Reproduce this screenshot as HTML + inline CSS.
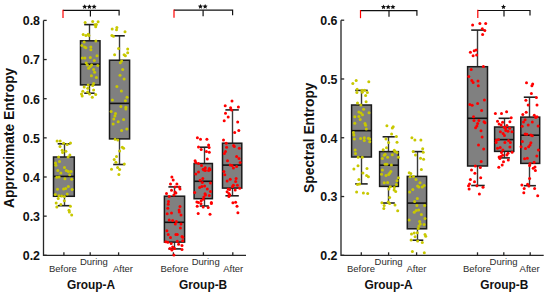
<!DOCTYPE html><html><head><meta charset="utf-8"><style>html,body{margin:0;padding:0;background:#fff;}svg{display:block;font-family:"Liberation Sans",sans-serif;}</style></head><body>
<svg width="550" height="296" viewBox="0 0 550 296">
<rect width="550" height="296" fill="#fff"/>
<path d="M43.5 20.4 V255.3 H246" fill="none" stroke="#262626" stroke-width="1.3"/>
<line x1="43.5" y1="255.3" x2="46.7" y2="255.3" stroke="#262626" stroke-width="1.3"/>
<text x="40.0" y="260.1" text-anchor="end" font-size="12.4" font-weight="bold" fill="#111">0.2</text>
<line x1="43.5" y1="216.15" x2="46.7" y2="216.15" stroke="#262626" stroke-width="1.3"/>
<text x="40.0" y="220.95" text-anchor="end" font-size="12.4" font-weight="bold" fill="#111">0.3</text>
<line x1="43.5" y1="177.0" x2="46.7" y2="177.0" stroke="#262626" stroke-width="1.3"/>
<text x="40.0" y="181.8" text-anchor="end" font-size="12.4" font-weight="bold" fill="#111">0.4</text>
<line x1="43.5" y1="137.85" x2="46.7" y2="137.85" stroke="#262626" stroke-width="1.3"/>
<text x="40.0" y="142.65" text-anchor="end" font-size="12.4" font-weight="bold" fill="#111">0.5</text>
<line x1="43.5" y1="98.7" x2="46.7" y2="98.7" stroke="#262626" stroke-width="1.3"/>
<text x="40.0" y="103.5" text-anchor="end" font-size="12.4" font-weight="bold" fill="#111">0.6</text>
<line x1="43.5" y1="59.55" x2="46.7" y2="59.55" stroke="#262626" stroke-width="1.3"/>
<text x="40.0" y="64.35" text-anchor="end" font-size="12.4" font-weight="bold" fill="#111">0.7</text>
<line x1="43.5" y1="20.4" x2="46.7" y2="20.4" stroke="#262626" stroke-width="1.3"/>
<text x="40.0" y="25.2" text-anchor="end" font-size="12.4" font-weight="bold" fill="#111">0.8</text>
<line x1="63.9" y1="255.3" x2="63.9" y2="252.3" stroke="#262626" stroke-width="1.3"/>
<line x1="90.2" y1="255.3" x2="90.2" y2="252.3" stroke="#262626" stroke-width="1.3"/>
<line x1="118.6" y1="255.3" x2="118.6" y2="252.3" stroke="#262626" stroke-width="1.3"/>
<line x1="173.4" y1="255.3" x2="173.4" y2="252.3" stroke="#262626" stroke-width="1.3"/>
<line x1="203.4" y1="255.3" x2="203.4" y2="252.3" stroke="#262626" stroke-width="1.3"/>
<line x1="232.8" y1="255.3" x2="232.8" y2="252.3" stroke="#262626" stroke-width="1.3"/>
<text transform="translate(14.4,137.9) rotate(-90)" text-anchor="middle" font-size="13.8" font-weight="bold" fill="#111">Approximate Entropy</text>
<path d="M341.0 20.2 V255.3 H543.7" fill="none" stroke="#262626" stroke-width="1.3"/>
<line x1="341.0" y1="255.3" x2="344.2" y2="255.3" stroke="#262626" stroke-width="1.3"/>
<text x="337.5" y="260.1" text-anchor="end" font-size="12.4" font-weight="bold" fill="#111">0.2</text>
<line x1="341.0" y1="196.53" x2="344.2" y2="196.53" stroke="#262626" stroke-width="1.3"/>
<text x="337.5" y="201.33" text-anchor="end" font-size="12.4" font-weight="bold" fill="#111">0.3</text>
<line x1="341.0" y1="137.75" x2="344.2" y2="137.75" stroke="#262626" stroke-width="1.3"/>
<text x="337.5" y="142.55" text-anchor="end" font-size="12.4" font-weight="bold" fill="#111">0.4</text>
<line x1="341.0" y1="78.98" x2="344.2" y2="78.98" stroke="#262626" stroke-width="1.3"/>
<text x="337.5" y="83.78" text-anchor="end" font-size="12.4" font-weight="bold" fill="#111">0.5</text>
<line x1="341.0" y1="20.2" x2="344.2" y2="20.2" stroke="#262626" stroke-width="1.3"/>
<text x="337.5" y="25" text-anchor="end" font-size="12.4" font-weight="bold" fill="#111">0.6</text>
<line x1="361.3" y1="255.3" x2="361.3" y2="252.3" stroke="#262626" stroke-width="1.3"/>
<line x1="388.6" y1="255.3" x2="388.6" y2="252.3" stroke="#262626" stroke-width="1.3"/>
<line x1="416.6" y1="255.3" x2="416.6" y2="252.3" stroke="#262626" stroke-width="1.3"/>
<line x1="477.5" y1="255.3" x2="477.5" y2="252.3" stroke="#262626" stroke-width="1.3"/>
<line x1="503.8" y1="255.3" x2="503.8" y2="252.3" stroke="#262626" stroke-width="1.3"/>
<line x1="530.2" y1="255.3" x2="530.2" y2="252.3" stroke="#262626" stroke-width="1.3"/>
<text transform="translate(313.8,137.7) rotate(-90)" text-anchor="middle" font-size="13.8" font-weight="bold" fill="#111">Spectral Entropy</text>
<line x1="64.5" y1="143.8" x2="64.5" y2="157.0" stroke="#3a3a3a" stroke-width="1.4"/>
<line x1="64.5" y1="196.3" x2="64.5" y2="205.7" stroke="#3a3a3a" stroke-width="1.4"/>
<line x1="57.7" y1="143.8" x2="70.4" y2="143.8" stroke="#222" stroke-width="1.6"/>
<line x1="57.7" y1="205.7" x2="70.4" y2="205.7" stroke="#222" stroke-width="1.6"/>
<rect x="53.5" y="157.0" width="20.8" height="39.3" fill="#808080" stroke="#1a1a1a" stroke-width="1.5"/>
<line x1="53.5" y1="176.4" x2="74.3" y2="176.4" stroke="#111" stroke-width="1.6"/>
<line x1="89.5" y1="24.6" x2="89.5" y2="40.8" stroke="#3a3a3a" stroke-width="1.4"/>
<line x1="89.5" y1="84.9" x2="89.5" y2="93.2" stroke="#3a3a3a" stroke-width="1.4"/>
<line x1="84.2" y1="24.6" x2="94.7" y2="24.6" stroke="#222" stroke-width="1.6"/>
<line x1="84.2" y1="93.2" x2="94.7" y2="93.2" stroke="#222" stroke-width="1.6"/>
<rect x="80.5" y="40.8" width="19.5" height="44.1" fill="#808080" stroke="#1a1a1a" stroke-width="1.5"/>
<line x1="80.5" y1="64.2" x2="100.0" y2="64.2" stroke="#111" stroke-width="1.6"/>
<line x1="119.5" y1="35.8" x2="119.5" y2="60.2" stroke="#3a3a3a" stroke-width="1.4"/>
<line x1="119.5" y1="138.9" x2="119.5" y2="164.5" stroke="#3a3a3a" stroke-width="1.4"/>
<line x1="113.2" y1="35.8" x2="124.8" y2="35.8" stroke="#222" stroke-width="1.6"/>
<line x1="113.2" y1="164.5" x2="124.8" y2="164.5" stroke="#222" stroke-width="1.6"/>
<rect x="109.5" y="60.2" width="20.1" height="78.7" fill="#808080" stroke="#1a1a1a" stroke-width="1.5"/>
<line x1="109.5" y1="103.4" x2="129.6" y2="103.4" stroke="#111" stroke-width="1.6"/>
<line x1="174.5" y1="186.9" x2="174.5" y2="196.2" stroke="#3a3a3a" stroke-width="1.4"/>
<line x1="174.5" y1="242.1" x2="174.5" y2="248.9" stroke="#3a3a3a" stroke-width="1.4"/>
<line x1="168.4" y1="186.9" x2="181.2" y2="186.9" stroke="#222" stroke-width="1.6"/>
<line x1="168.4" y1="248.9" x2="181.2" y2="248.9" stroke="#222" stroke-width="1.6"/>
<rect x="164.4" y="196.2" width="20.2" height="45.9" fill="#808080" stroke="#1a1a1a" stroke-width="1.5"/>
<line x1="164.4" y1="222.3" x2="184.6" y2="222.3" stroke="#111" stroke-width="1.6"/>
<line x1="204.5" y1="147.2" x2="204.5" y2="163.5" stroke="#3a3a3a" stroke-width="1.4"/>
<line x1="204.5" y1="198.7" x2="204.5" y2="206.0" stroke="#3a3a3a" stroke-width="1.4"/>
<line x1="199.7" y1="147.2" x2="208.8" y2="147.2" stroke="#222" stroke-width="1.6"/>
<line x1="199.7" y1="206.0" x2="208.8" y2="206.0" stroke="#222" stroke-width="1.6"/>
<rect x="194.1" y="163.5" width="18.3" height="35.2" fill="#808080" stroke="#1a1a1a" stroke-width="1.5"/>
<line x1="194.1" y1="181.3" x2="212.4" y2="181.3" stroke="#111" stroke-width="1.6"/>
<line x1="232.5" y1="109.9" x2="232.5" y2="143.2" stroke="#3a3a3a" stroke-width="1.4"/>
<line x1="232.5" y1="188.1" x2="232.5" y2="195.8" stroke="#3a3a3a" stroke-width="1.4"/>
<line x1="225.4" y1="109.9" x2="238.8" y2="109.9" stroke="#222" stroke-width="1.6"/>
<line x1="225.4" y1="195.8" x2="238.8" y2="195.8" stroke="#222" stroke-width="1.6"/>
<rect x="222.5" y="143.2" width="19.3" height="44.9" fill="#808080" stroke="#1a1a1a" stroke-width="1.5"/>
<line x1="222.5" y1="165.1" x2="241.8" y2="165.1" stroke="#111" stroke-width="1.6"/>
<line x1="361.5" y1="90.4" x2="361.5" y2="105.0" stroke="#3a3a3a" stroke-width="1.4"/>
<line x1="361.5" y1="157.0" x2="361.5" y2="183.9" stroke="#3a3a3a" stroke-width="1.4"/>
<line x1="355.2" y1="90.4" x2="367.7" y2="90.4" stroke="#222" stroke-width="1.6"/>
<line x1="355.2" y1="183.9" x2="367.7" y2="183.9" stroke="#222" stroke-width="1.6"/>
<rect x="351.6" y="105.0" width="19.8" height="52.0" fill="#808080" stroke="#1a1a1a" stroke-width="1.5"/>
<line x1="351.6" y1="130.7" x2="371.4" y2="130.7" stroke="#111" stroke-width="1.6"/>
<line x1="388.5" y1="136.8" x2="388.5" y2="151.6" stroke="#3a3a3a" stroke-width="1.4"/>
<line x1="388.5" y1="186.4" x2="388.5" y2="203.0" stroke="#3a3a3a" stroke-width="1.4"/>
<line x1="382.6" y1="136.8" x2="394.8" y2="136.8" stroke="#222" stroke-width="1.6"/>
<line x1="382.6" y1="203.0" x2="394.8" y2="203.0" stroke="#222" stroke-width="1.6"/>
<rect x="379.6" y="151.6" width="18.8" height="34.8" fill="#808080" stroke="#1a1a1a" stroke-width="1.5"/>
<line x1="379.6" y1="165.2" x2="398.4" y2="165.2" stroke="#111" stroke-width="1.6"/>
<line x1="417.5" y1="151.6" x2="417.5" y2="176.4" stroke="#3a3a3a" stroke-width="1.4"/>
<line x1="417.5" y1="228.8" x2="417.5" y2="240.2" stroke="#3a3a3a" stroke-width="1.4"/>
<line x1="412.4" y1="151.6" x2="423.3" y2="151.6" stroke="#222" stroke-width="1.6"/>
<line x1="412.4" y1="240.2" x2="423.3" y2="240.2" stroke="#222" stroke-width="1.6"/>
<rect x="407.3" y="176.4" width="19.3" height="52.4" fill="#808080" stroke="#1a1a1a" stroke-width="1.5"/>
<line x1="407.3" y1="203.1" x2="426.6" y2="203.1" stroke="#111" stroke-width="1.6"/>
<line x1="477.5" y1="30.1" x2="477.5" y2="66.7" stroke="#3a3a3a" stroke-width="1.4"/>
<line x1="477.5" y1="166.0" x2="477.5" y2="185.5" stroke="#3a3a3a" stroke-width="1.4"/>
<line x1="471.2" y1="30.1" x2="484.7" y2="30.1" stroke="#222" stroke-width="1.6"/>
<line x1="471.2" y1="185.5" x2="484.7" y2="185.5" stroke="#222" stroke-width="1.6"/>
<rect x="467.6" y="66.7" width="19.9" height="99.3" fill="#808080" stroke="#1a1a1a" stroke-width="1.5"/>
<line x1="467.6" y1="118.3" x2="487.5" y2="118.3" stroke="#111" stroke-width="1.6"/>
<line x1="504.5" y1="118.3" x2="504.5" y2="127.0" stroke="#3a3a3a" stroke-width="1.4"/>
<line x1="504.5" y1="151.4" x2="504.5" y2="157.9" stroke="#3a3a3a" stroke-width="1.4"/>
<line x1="498.6" y1="118.3" x2="509.8" y2="118.3" stroke="#222" stroke-width="1.6"/>
<line x1="498.6" y1="157.9" x2="509.8" y2="157.9" stroke="#222" stroke-width="1.6"/>
<rect x="494.6" y="127.0" width="19.2" height="24.4" fill="#808080" stroke="#1a1a1a" stroke-width="1.5"/>
<line x1="494.6" y1="139.6" x2="513.8" y2="139.6" stroke="#111" stroke-width="1.6"/>
<line x1="529.5" y1="97.2" x2="529.5" y2="117.1" stroke="#3a3a3a" stroke-width="1.4"/>
<line x1="529.5" y1="163.4" x2="529.5" y2="185.7" stroke="#3a3a3a" stroke-width="1.4"/>
<line x1="523.8" y1="97.2" x2="535.9" y2="97.2" stroke="#222" stroke-width="1.6"/>
<line x1="523.8" y1="185.7" x2="535.9" y2="185.7" stroke="#222" stroke-width="1.6"/>
<rect x="520.8" y="117.1" width="18.9" height="46.3" fill="#808080" stroke="#1a1a1a" stroke-width="1.5"/>
<line x1="520.8" y1="135.2" x2="539.7" y2="135.2" stroke="#111" stroke-width="1.6"/>
<circle cx="57.1" cy="141.1" r="1.5" fill="#c8c800"/>
<circle cx="60.2" cy="141.1" r="1.5" fill="#c8c800"/>
<circle cx="63.6" cy="143.3" r="1.5" fill="#c8c800"/>
<circle cx="67.2" cy="144.5" r="1.5" fill="#c8c800"/>
<circle cx="70.5" cy="142.9" r="1.5" fill="#c8c800"/>
<circle cx="60.0" cy="146.5" r="1.5" fill="#c8c800"/>
<circle cx="62.2" cy="150.3" r="1.5" fill="#c8c800"/>
<circle cx="62.6" cy="152.6" r="1.5" fill="#c8c800"/>
<circle cx="65.9" cy="151.2" r="1.5" fill="#c8c800"/>
<circle cx="58.6" cy="157.1" r="1.5" fill="#c8c800"/>
<circle cx="68.1" cy="157.1" r="1.5" fill="#c8c800"/>
<circle cx="69.9" cy="155.0" r="1.5" fill="#c8c800"/>
<circle cx="55.5" cy="162.9" r="1.5" fill="#c8c800"/>
<circle cx="55.9" cy="165.2" r="1.5" fill="#c8c800"/>
<circle cx="59.5" cy="161.5" r="1.5" fill="#c8c800"/>
<circle cx="64.5" cy="167.5" r="1.5" fill="#c8c800"/>
<circle cx="57.8" cy="170.4" r="1.5" fill="#c8c800"/>
<circle cx="66.3" cy="170.4" r="1.5" fill="#c8c800"/>
<circle cx="68.3" cy="171.5" r="1.5" fill="#c8c800"/>
<circle cx="71.0" cy="171.5" r="1.5" fill="#c8c800"/>
<circle cx="60.9" cy="173.1" r="1.5" fill="#c8c800"/>
<circle cx="69.7" cy="174.7" r="1.5" fill="#c8c800"/>
<circle cx="56.8" cy="177.2" r="1.5" fill="#c8c800"/>
<circle cx="59.1" cy="176.9" r="1.5" fill="#c8c800"/>
<circle cx="64.9" cy="178.8" r="1.5" fill="#c8c800"/>
<circle cx="71.7" cy="179.2" r="1.5" fill="#c8c800"/>
<circle cx="68.3" cy="186.4" r="1.5" fill="#c8c800"/>
<circle cx="57.5" cy="189.3" r="1.5" fill="#c8c800"/>
<circle cx="63.6" cy="189.1" r="1.5" fill="#c8c800"/>
<circle cx="65.6" cy="188.6" r="1.5" fill="#c8c800"/>
<circle cx="72.1" cy="189.6" r="1.5" fill="#c8c800"/>
<circle cx="55.3" cy="194.4" r="1.5" fill="#c8c800"/>
<circle cx="67.2" cy="193.9" r="1.5" fill="#c8c800"/>
<circle cx="58.9" cy="195.8" r="1.5" fill="#c8c800"/>
<circle cx="61.6" cy="196.1" r="1.5" fill="#c8c800"/>
<circle cx="64.3" cy="196.4" r="1.5" fill="#c8c800"/>
<circle cx="58.2" cy="198.6" r="1.5" fill="#c8c800"/>
<circle cx="64.3" cy="200.8" r="1.5" fill="#c8c800"/>
<circle cx="56.2" cy="203.1" r="1.5" fill="#c8c800"/>
<circle cx="60.9" cy="204.4" r="1.5" fill="#c8c800"/>
<circle cx="56.8" cy="206.9" r="1.5" fill="#c8c800"/>
<circle cx="70.4" cy="206.2" r="1.5" fill="#c8c800"/>
<circle cx="69.0" cy="210.3" r="1.5" fill="#c8c800"/>
<circle cx="69.4" cy="211.9" r="1.5" fill="#c8c800"/>
<circle cx="71.7" cy="215.0" r="1.5" fill="#c8c800"/>
<circle cx="85.1" cy="22.4" r="1.5" fill="#c8c800"/>
<circle cx="92.7" cy="21.4" r="1.5" fill="#c8c800"/>
<circle cx="98.1" cy="21.8" r="1.5" fill="#c8c800"/>
<circle cx="95.0" cy="24.8" r="1.5" fill="#c8c800"/>
<circle cx="96.4" cy="24.5" r="1.5" fill="#c8c800"/>
<circle cx="95.7" cy="26.8" r="1.5" fill="#c8c800"/>
<circle cx="83.2" cy="34.5" r="1.5" fill="#c8c800"/>
<circle cx="85.9" cy="35.4" r="1.5" fill="#c8c800"/>
<circle cx="88.2" cy="34.3" r="1.5" fill="#c8c800"/>
<circle cx="88.9" cy="35.6" r="1.5" fill="#c8c800"/>
<circle cx="84.2" cy="42.1" r="1.5" fill="#c8c800"/>
<circle cx="95.9" cy="41.0" r="1.5" fill="#c8c800"/>
<circle cx="81.9" cy="45.4" r="1.5" fill="#c8c800"/>
<circle cx="84.6" cy="47.1" r="1.5" fill="#c8c800"/>
<circle cx="85.9" cy="47.8" r="1.5" fill="#c8c800"/>
<circle cx="90.9" cy="47.1" r="1.5" fill="#c8c800"/>
<circle cx="90.9" cy="49.8" r="1.5" fill="#c8c800"/>
<circle cx="82.4" cy="58.1" r="1.5" fill="#c8c800"/>
<circle cx="84.9" cy="58.1" r="1.5" fill="#c8c800"/>
<circle cx="90.3" cy="57.5" r="1.5" fill="#c8c800"/>
<circle cx="97.0" cy="55.8" r="1.5" fill="#c8c800"/>
<circle cx="94.3" cy="60.4" r="1.5" fill="#c8c800"/>
<circle cx="86.2" cy="62.9" r="1.5" fill="#c8c800"/>
<circle cx="87.3" cy="64.9" r="1.5" fill="#c8c800"/>
<circle cx="91.6" cy="64.9" r="1.5" fill="#c8c800"/>
<circle cx="90.3" cy="66.6" r="1.5" fill="#c8c800"/>
<circle cx="88.6" cy="68.3" r="1.5" fill="#c8c800"/>
<circle cx="97.7" cy="65.6" r="1.5" fill="#c8c800"/>
<circle cx="93.6" cy="69.6" r="1.5" fill="#c8c800"/>
<circle cx="94.6" cy="72.3" r="1.5" fill="#c8c800"/>
<circle cx="91.4" cy="75.7" r="1.5" fill="#c8c800"/>
<circle cx="96.4" cy="77.5" r="1.5" fill="#c8c800"/>
<circle cx="93.6" cy="83.4" r="1.5" fill="#c8c800"/>
<circle cx="92.7" cy="85.5" r="1.5" fill="#c8c800"/>
<circle cx="88.2" cy="85.1" r="1.5" fill="#c8c800"/>
<circle cx="84.2" cy="86.9" r="1.5" fill="#c8c800"/>
<circle cx="87.8" cy="88.2" r="1.5" fill="#c8c800"/>
<circle cx="93.6" cy="90.1" r="1.5" fill="#c8c800"/>
<circle cx="82.8" cy="91.2" r="1.5" fill="#c8c800"/>
<circle cx="87.6" cy="91.9" r="1.5" fill="#c8c800"/>
<circle cx="81.5" cy="93.9" r="1.5" fill="#c8c800"/>
<circle cx="82.2" cy="95.9" r="1.5" fill="#c8c800"/>
<circle cx="89.6" cy="93.9" r="1.5" fill="#c8c800"/>
<circle cx="95.7" cy="94.6" r="1.5" fill="#c8c800"/>
<circle cx="92.3" cy="97.3" r="1.5" fill="#c8c800"/>
<circle cx="112.2" cy="29.0" r="1.5" fill="#c8c800"/>
<circle cx="116.9" cy="27.4" r="1.5" fill="#c8c800"/>
<circle cx="116.5" cy="29.8" r="1.5" fill="#c8c800"/>
<circle cx="125.0" cy="31.7" r="1.5" fill="#c8c800"/>
<circle cx="111.9" cy="35.5" r="1.5" fill="#c8c800"/>
<circle cx="113.5" cy="36.2" r="1.5" fill="#c8c800"/>
<circle cx="118.6" cy="48.4" r="1.5" fill="#c8c800"/>
<circle cx="127.7" cy="49.0" r="1.5" fill="#c8c800"/>
<circle cx="114.6" cy="54.7" r="1.5" fill="#c8c800"/>
<circle cx="124.1" cy="54.7" r="1.5" fill="#c8c800"/>
<circle cx="125.4" cy="55.8" r="1.5" fill="#c8c800"/>
<circle cx="127.7" cy="52.8" r="1.5" fill="#c8c800"/>
<circle cx="121.6" cy="60.9" r="1.5" fill="#c8c800"/>
<circle cx="120.3" cy="62.7" r="1.5" fill="#c8c800"/>
<circle cx="122.7" cy="69.5" r="1.5" fill="#c8c800"/>
<circle cx="120.0" cy="75.3" r="1.5" fill="#c8c800"/>
<circle cx="124.1" cy="78.9" r="1.5" fill="#c8c800"/>
<circle cx="116.9" cy="86.6" r="1.5" fill="#c8c800"/>
<circle cx="121.4" cy="91.1" r="1.5" fill="#c8c800"/>
<circle cx="127.0" cy="97.2" r="1.5" fill="#c8c800"/>
<circle cx="112.4" cy="100.1" r="1.5" fill="#c8c800"/>
<circle cx="125.4" cy="100.8" r="1.5" fill="#c8c800"/>
<circle cx="120.9" cy="106.4" r="1.5" fill="#c8c800"/>
<circle cx="125.9" cy="107.2" r="1.5" fill="#c8c800"/>
<circle cx="125.9" cy="109.1" r="1.5" fill="#c8c800"/>
<circle cx="111.1" cy="111.6" r="1.5" fill="#c8c800"/>
<circle cx="115.5" cy="113.6" r="1.5" fill="#c8c800"/>
<circle cx="114.9" cy="115.9" r="1.5" fill="#c8c800"/>
<circle cx="113.8" cy="119.0" r="1.5" fill="#c8c800"/>
<circle cx="123.6" cy="119.4" r="1.5" fill="#c8c800"/>
<circle cx="118.2" cy="121.7" r="1.5" fill="#c8c800"/>
<circle cx="113.2" cy="124.0" r="1.5" fill="#c8c800"/>
<circle cx="121.6" cy="130.5" r="1.5" fill="#c8c800"/>
<circle cx="126.8" cy="128.9" r="1.5" fill="#c8c800"/>
<circle cx="115.1" cy="139.2" r="1.5" fill="#c8c800"/>
<circle cx="117.8" cy="140.1" r="1.5" fill="#c8c800"/>
<circle cx="122.3" cy="147.3" r="1.5" fill="#c8c800"/>
<circle cx="123.6" cy="148.2" r="1.5" fill="#c8c800"/>
<circle cx="119.6" cy="150.9" r="1.5" fill="#c8c800"/>
<circle cx="116.5" cy="156.4" r="1.5" fill="#c8c800"/>
<circle cx="114.2" cy="159.5" r="1.5" fill="#c8c800"/>
<circle cx="115.9" cy="162.2" r="1.5" fill="#c8c800"/>
<circle cx="124.3" cy="164.1" r="1.5" fill="#c8c800"/>
<circle cx="117.6" cy="167.6" r="1.5" fill="#c8c800"/>
<circle cx="111.5" cy="169.2" r="1.5" fill="#c8c800"/>
<circle cx="119.6" cy="169.5" r="1.5" fill="#c8c800"/>
<circle cx="118.9" cy="174.6" r="1.5" fill="#c8c800"/>
<circle cx="171.9" cy="177.1" r="1.5" fill="#ff0000"/>
<circle cx="173.2" cy="180.1" r="1.5" fill="#ff0000"/>
<circle cx="170.5" cy="183.9" r="1.5" fill="#ff0000"/>
<circle cx="176.9" cy="183.9" r="1.5" fill="#ff0000"/>
<circle cx="175.0" cy="187.1" r="1.5" fill="#ff0000"/>
<circle cx="179.1" cy="187.1" r="1.5" fill="#ff0000"/>
<circle cx="180.0" cy="188.9" r="1.5" fill="#ff0000"/>
<circle cx="171.5" cy="190.2" r="1.5" fill="#ff0000"/>
<circle cx="175.0" cy="192.0" r="1.5" fill="#ff0000"/>
<circle cx="175.9" cy="192.9" r="1.5" fill="#ff0000"/>
<circle cx="166.5" cy="193.4" r="1.5" fill="#ff0000"/>
<circle cx="173.9" cy="195.0" r="1.5" fill="#ff0000"/>
<circle cx="169.2" cy="196.6" r="1.5" fill="#ff0000"/>
<circle cx="168.5" cy="201.5" r="1.5" fill="#ff0000"/>
<circle cx="168.2" cy="204.2" r="1.5" fill="#ff0000"/>
<circle cx="180.0" cy="206.5" r="1.5" fill="#ff0000"/>
<circle cx="167.8" cy="208.2" r="1.5" fill="#ff0000"/>
<circle cx="179.1" cy="210.1" r="1.5" fill="#ff0000"/>
<circle cx="179.3" cy="212.0" r="1.5" fill="#ff0000"/>
<circle cx="167.2" cy="213.8" r="1.5" fill="#ff0000"/>
<circle cx="171.5" cy="213.1" r="1.5" fill="#ff0000"/>
<circle cx="181.0" cy="215.1" r="1.5" fill="#ff0000"/>
<circle cx="169.2" cy="219.9" r="1.5" fill="#ff0000"/>
<circle cx="172.6" cy="220.5" r="1.5" fill="#ff0000"/>
<circle cx="176.4" cy="221.5" r="1.5" fill="#ff0000"/>
<circle cx="175.3" cy="223.9" r="1.5" fill="#ff0000"/>
<circle cx="181.0" cy="223.9" r="1.5" fill="#ff0000"/>
<circle cx="180.4" cy="228.0" r="1.5" fill="#ff0000"/>
<circle cx="166.9" cy="230.7" r="1.5" fill="#ff0000"/>
<circle cx="168.2" cy="234.5" r="1.5" fill="#ff0000"/>
<circle cx="175.9" cy="234.5" r="1.5" fill="#ff0000"/>
<circle cx="177.3" cy="234.5" r="1.5" fill="#ff0000"/>
<circle cx="170.5" cy="237.4" r="1.5" fill="#ff0000"/>
<circle cx="182.0" cy="236.4" r="1.5" fill="#ff0000"/>
<circle cx="182.7" cy="237.2" r="1.5" fill="#ff0000"/>
<circle cx="165.8" cy="241.8" r="1.5" fill="#ff0000"/>
<circle cx="167.8" cy="242.2" r="1.5" fill="#ff0000"/>
<circle cx="177.3" cy="241.2" r="1.5" fill="#ff0000"/>
<circle cx="182.7" cy="240.8" r="1.5" fill="#ff0000"/>
<circle cx="171.2" cy="243.5" r="1.5" fill="#ff0000"/>
<circle cx="178.6" cy="244.2" r="1.5" fill="#ff0000"/>
<circle cx="182.0" cy="245.5" r="1.5" fill="#ff0000"/>
<circle cx="172.6" cy="246.9" r="1.5" fill="#ff0000"/>
<circle cx="169.9" cy="248.6" r="1.5" fill="#ff0000"/>
<circle cx="174.6" cy="248.6" r="1.5" fill="#ff0000"/>
<circle cx="171.9" cy="250.0" r="1.5" fill="#ff0000"/>
<circle cx="182.0" cy="249.6" r="1.5" fill="#ff0000"/>
<circle cx="173.9" cy="255.0" r="1.5" fill="#ff0000"/>
<circle cx="197.4" cy="137.8" r="1.5" fill="#ff0000"/>
<circle cx="200.5" cy="139.2" r="1.5" fill="#ff0000"/>
<circle cx="206.9" cy="139.2" r="1.5" fill="#ff0000"/>
<circle cx="208.6" cy="145.1" r="1.5" fill="#ff0000"/>
<circle cx="198.5" cy="146.9" r="1.5" fill="#ff0000"/>
<circle cx="209.1" cy="147.6" r="1.5" fill="#ff0000"/>
<circle cx="201.2" cy="149.6" r="1.5" fill="#ff0000"/>
<circle cx="206.4" cy="151.4" r="1.5" fill="#ff0000"/>
<circle cx="209.3" cy="152.3" r="1.5" fill="#ff0000"/>
<circle cx="207.3" cy="159.1" r="1.5" fill="#ff0000"/>
<circle cx="195.1" cy="160.8" r="1.5" fill="#ff0000"/>
<circle cx="195.8" cy="162.4" r="1.5" fill="#ff0000"/>
<circle cx="198.5" cy="163.5" r="1.5" fill="#ff0000"/>
<circle cx="201.5" cy="165.4" r="1.5" fill="#ff0000"/>
<circle cx="205.3" cy="167.8" r="1.5" fill="#ff0000"/>
<circle cx="209.3" cy="168.5" r="1.5" fill="#ff0000"/>
<circle cx="203.2" cy="169.2" r="1.5" fill="#ff0000"/>
<circle cx="203.9" cy="170.1" r="1.5" fill="#ff0000"/>
<circle cx="205.3" cy="170.4" r="1.5" fill="#ff0000"/>
<circle cx="208.6" cy="170.4" r="1.5" fill="#ff0000"/>
<circle cx="210.0" cy="169.8" r="1.5" fill="#ff0000"/>
<circle cx="198.5" cy="172.1" r="1.5" fill="#ff0000"/>
<circle cx="195.8" cy="173.9" r="1.5" fill="#ff0000"/>
<circle cx="202.8" cy="178.5" r="1.5" fill="#ff0000"/>
<circle cx="200.1" cy="180.2" r="1.5" fill="#ff0000"/>
<circle cx="202.3" cy="182.5" r="1.5" fill="#ff0000"/>
<circle cx="210.4" cy="182.9" r="1.5" fill="#ff0000"/>
<circle cx="199.6" cy="187.4" r="1.5" fill="#ff0000"/>
<circle cx="201.9" cy="186.6" r="1.5" fill="#ff0000"/>
<circle cx="204.6" cy="186.1" r="1.5" fill="#ff0000"/>
<circle cx="207.3" cy="189.0" r="1.5" fill="#ff0000"/>
<circle cx="210.4" cy="191.5" r="1.5" fill="#ff0000"/>
<circle cx="194.7" cy="192.4" r="1.5" fill="#ff0000"/>
<circle cx="205.0" cy="193.8" r="1.5" fill="#ff0000"/>
<circle cx="205.5" cy="195.1" r="1.5" fill="#ff0000"/>
<circle cx="209.3" cy="195.5" r="1.5" fill="#ff0000"/>
<circle cx="203.9" cy="197.1" r="1.5" fill="#ff0000"/>
<circle cx="203.2" cy="199.2" r="1.5" fill="#ff0000"/>
<circle cx="196.9" cy="201.9" r="1.5" fill="#ff0000"/>
<circle cx="198.5" cy="202.4" r="1.5" fill="#ff0000"/>
<circle cx="201.2" cy="200.8" r="1.5" fill="#ff0000"/>
<circle cx="201.0" cy="203.8" r="1.5" fill="#ff0000"/>
<circle cx="211.4" cy="202.4" r="1.5" fill="#ff0000"/>
<circle cx="211.4" cy="203.5" r="1.5" fill="#ff0000"/>
<circle cx="197.2" cy="206.2" r="1.5" fill="#ff0000"/>
<circle cx="203.2" cy="206.9" r="1.5" fill="#ff0000"/>
<circle cx="208.2" cy="207.6" r="1.5" fill="#ff0000"/>
<circle cx="198.2" cy="213.6" r="1.5" fill="#ff0000"/>
<circle cx="210.0" cy="214.3" r="1.5" fill="#ff0000"/>
<circle cx="232.0" cy="101.1" r="1.5" fill="#ff0000"/>
<circle cx="225.2" cy="105.8" r="1.5" fill="#ff0000"/>
<circle cx="230.6" cy="107.8" r="1.5" fill="#ff0000"/>
<circle cx="238.4" cy="106.9" r="1.5" fill="#ff0000"/>
<circle cx="231.6" cy="109.9" r="1.5" fill="#ff0000"/>
<circle cx="225.5" cy="113.2" r="1.5" fill="#ff0000"/>
<circle cx="228.2" cy="116.9" r="1.5" fill="#ff0000"/>
<circle cx="224.2" cy="120.7" r="1.5" fill="#ff0000"/>
<circle cx="237.7" cy="122.0" r="1.5" fill="#ff0000"/>
<circle cx="238.8" cy="130.4" r="1.5" fill="#ff0000"/>
<circle cx="234.7" cy="132.6" r="1.5" fill="#ff0000"/>
<circle cx="223.5" cy="140.1" r="1.5" fill="#ff0000"/>
<circle cx="226.2" cy="143.2" r="1.5" fill="#ff0000"/>
<circle cx="226.6" cy="147.3" r="1.5" fill="#ff0000"/>
<circle cx="233.6" cy="145.5" r="1.5" fill="#ff0000"/>
<circle cx="234.3" cy="146.5" r="1.5" fill="#ff0000"/>
<circle cx="239.3" cy="148.2" r="1.5" fill="#ff0000"/>
<circle cx="225.5" cy="151.6" r="1.5" fill="#ff0000"/>
<circle cx="224.4" cy="153.6" r="1.5" fill="#ff0000"/>
<circle cx="236.6" cy="156.4" r="1.5" fill="#ff0000"/>
<circle cx="239.0" cy="158.6" r="1.5" fill="#ff0000"/>
<circle cx="227.5" cy="160.8" r="1.5" fill="#ff0000"/>
<circle cx="240.1" cy="162.4" r="1.5" fill="#ff0000"/>
<circle cx="230.2" cy="164.9" r="1.5" fill="#ff0000"/>
<circle cx="232.0" cy="165.4" r="1.5" fill="#ff0000"/>
<circle cx="236.6" cy="166.5" r="1.5" fill="#ff0000"/>
<circle cx="233.4" cy="168.1" r="1.5" fill="#ff0000"/>
<circle cx="223.9" cy="171.5" r="1.5" fill="#ff0000"/>
<circle cx="224.8" cy="174.7" r="1.5" fill="#ff0000"/>
<circle cx="230.2" cy="179.2" r="1.5" fill="#ff0000"/>
<circle cx="227.1" cy="181.0" r="1.5" fill="#ff0000"/>
<circle cx="236.1" cy="178.5" r="1.5" fill="#ff0000"/>
<circle cx="235.6" cy="181.5" r="1.5" fill="#ff0000"/>
<circle cx="233.4" cy="185.3" r="1.5" fill="#ff0000"/>
<circle cx="232.5" cy="186.4" r="1.5" fill="#ff0000"/>
<circle cx="237.4" cy="185.3" r="1.5" fill="#ff0000"/>
<circle cx="239.7" cy="188.2" r="1.5" fill="#ff0000"/>
<circle cx="228.2" cy="189.1" r="1.5" fill="#ff0000"/>
<circle cx="229.6" cy="189.6" r="1.5" fill="#ff0000"/>
<circle cx="235.2" cy="190.0" r="1.5" fill="#ff0000"/>
<circle cx="227.1" cy="191.8" r="1.5" fill="#ff0000"/>
<circle cx="228.9" cy="193.6" r="1.5" fill="#ff0000"/>
<circle cx="229.8" cy="195.0" r="1.5" fill="#ff0000"/>
<circle cx="228.9" cy="196.4" r="1.5" fill="#ff0000"/>
<circle cx="232.9" cy="202.8" r="1.5" fill="#ff0000"/>
<circle cx="235.6" cy="202.2" r="1.5" fill="#ff0000"/>
<circle cx="237.0" cy="206.2" r="1.5" fill="#ff0000"/>
<circle cx="237.9" cy="212.7" r="1.5" fill="#ff0000"/>
<circle cx="356.2" cy="80.4" r="1.5" fill="#c8c800"/>
<circle cx="352.8" cy="83.5" r="1.5" fill="#c8c800"/>
<circle cx="368.8" cy="81.7" r="1.5" fill="#c8c800"/>
<circle cx="357.1" cy="89.3" r="1.5" fill="#c8c800"/>
<circle cx="362.0" cy="90.2" r="1.5" fill="#c8c800"/>
<circle cx="364.7" cy="90.2" r="1.5" fill="#c8c800"/>
<circle cx="356.9" cy="92.5" r="1.5" fill="#c8c800"/>
<circle cx="362.3" cy="92.3" r="1.5" fill="#c8c800"/>
<circle cx="367.4" cy="92.5" r="1.5" fill="#c8c800"/>
<circle cx="365.6" cy="95.6" r="1.5" fill="#c8c800"/>
<circle cx="366.1" cy="101.7" r="1.5" fill="#c8c800"/>
<circle cx="357.5" cy="103.1" r="1.5" fill="#c8c800"/>
<circle cx="360.9" cy="105.1" r="1.5" fill="#c8c800"/>
<circle cx="363.6" cy="109.2" r="1.5" fill="#c8c800"/>
<circle cx="358.9" cy="112.1" r="1.5" fill="#c8c800"/>
<circle cx="360.9" cy="113.0" r="1.5" fill="#c8c800"/>
<circle cx="362.5" cy="114.8" r="1.5" fill="#c8c800"/>
<circle cx="369.0" cy="112.8" r="1.5" fill="#c8c800"/>
<circle cx="354.8" cy="116.8" r="1.5" fill="#c8c800"/>
<circle cx="358.9" cy="116.5" r="1.5" fill="#c8c800"/>
<circle cx="360.2" cy="119.5" r="1.5" fill="#c8c800"/>
<circle cx="354.8" cy="123.3" r="1.5" fill="#c8c800"/>
<circle cx="365.0" cy="123.6" r="1.5" fill="#c8c800"/>
<circle cx="365.6" cy="125.2" r="1.5" fill="#c8c800"/>
<circle cx="366.3" cy="129.0" r="1.5" fill="#c8c800"/>
<circle cx="353.5" cy="132.4" r="1.5" fill="#c8c800"/>
<circle cx="353.9" cy="135.1" r="1.5" fill="#c8c800"/>
<circle cx="354.4" cy="139.1" r="1.5" fill="#c8c800"/>
<circle cx="360.6" cy="138.4" r="1.5" fill="#c8c800"/>
<circle cx="364.3" cy="137.8" r="1.5" fill="#c8c800"/>
<circle cx="364.3" cy="140.5" r="1.5" fill="#c8c800"/>
<circle cx="368.4" cy="138.2" r="1.5" fill="#c8c800"/>
<circle cx="369.7" cy="139.1" r="1.5" fill="#c8c800"/>
<circle cx="369.7" cy="141.8" r="1.5" fill="#c8c800"/>
<circle cx="355.2" cy="150.1" r="1.5" fill="#c8c800"/>
<circle cx="355.5" cy="153.5" r="1.5" fill="#c8c800"/>
<circle cx="358.2" cy="157.3" r="1.5" fill="#c8c800"/>
<circle cx="362.3" cy="157.3" r="1.5" fill="#c8c800"/>
<circle cx="358.0" cy="165.7" r="1.5" fill="#c8c800"/>
<circle cx="353.9" cy="169.1" r="1.5" fill="#c8c800"/>
<circle cx="367.0" cy="168.4" r="1.5" fill="#c8c800"/>
<circle cx="362.9" cy="173.1" r="1.5" fill="#c8c800"/>
<circle cx="366.6" cy="175.4" r="1.5" fill="#c8c800"/>
<circle cx="368.4" cy="176.8" r="1.5" fill="#c8c800"/>
<circle cx="358.9" cy="179.5" r="1.5" fill="#c8c800"/>
<circle cx="357.5" cy="184.6" r="1.5" fill="#c8c800"/>
<circle cx="359.6" cy="183.9" r="1.5" fill="#c8c800"/>
<circle cx="356.6" cy="192.0" r="1.5" fill="#c8c800"/>
<circle cx="363.4" cy="193.1" r="1.5" fill="#c8c800"/>
<circle cx="367.7" cy="193.4" r="1.5" fill="#c8c800"/>
<circle cx="386.9" cy="125.8" r="1.5" fill="#c8c800"/>
<circle cx="392.3" cy="128.1" r="1.5" fill="#c8c800"/>
<circle cx="393.2" cy="126.8" r="1.5" fill="#c8c800"/>
<circle cx="391.6" cy="134.0" r="1.5" fill="#c8c800"/>
<circle cx="396.4" cy="136.6" r="1.5" fill="#c8c800"/>
<circle cx="386.0" cy="138.9" r="1.5" fill="#c8c800"/>
<circle cx="388.6" cy="142.6" r="1.5" fill="#c8c800"/>
<circle cx="397.0" cy="142.3" r="1.5" fill="#c8c800"/>
<circle cx="386.5" cy="147.7" r="1.5" fill="#c8c800"/>
<circle cx="383.2" cy="149.8" r="1.5" fill="#c8c800"/>
<circle cx="394.3" cy="150.2" r="1.5" fill="#c8c800"/>
<circle cx="395.0" cy="151.5" r="1.5" fill="#c8c800"/>
<circle cx="397.0" cy="152.5" r="1.5" fill="#c8c800"/>
<circle cx="385.1" cy="154.2" r="1.5" fill="#c8c800"/>
<circle cx="384.2" cy="155.2" r="1.5" fill="#c8c800"/>
<circle cx="392.3" cy="154.8" r="1.5" fill="#c8c800"/>
<circle cx="387.6" cy="157.2" r="1.5" fill="#c8c800"/>
<circle cx="398.4" cy="157.2" r="1.5" fill="#c8c800"/>
<circle cx="382.4" cy="158.4" r="1.5" fill="#c8c800"/>
<circle cx="385.1" cy="164.2" r="1.5" fill="#c8c800"/>
<circle cx="386.9" cy="164.2" r="1.5" fill="#c8c800"/>
<circle cx="391.4" cy="165.1" r="1.5" fill="#c8c800"/>
<circle cx="382.4" cy="170.0" r="1.5" fill="#c8c800"/>
<circle cx="390.9" cy="171.4" r="1.5" fill="#c8c800"/>
<circle cx="389.6" cy="173.2" r="1.5" fill="#c8c800"/>
<circle cx="381.5" cy="174.3" r="1.5" fill="#c8c800"/>
<circle cx="386.0" cy="175.4" r="1.5" fill="#c8c800"/>
<circle cx="388.6" cy="174.6" r="1.5" fill="#c8c800"/>
<circle cx="398.4" cy="177.7" r="1.5" fill="#c8c800"/>
<circle cx="397.0" cy="180.8" r="1.5" fill="#c8c800"/>
<circle cx="384.2" cy="182.7" r="1.5" fill="#c8c800"/>
<circle cx="387.6" cy="182.4" r="1.5" fill="#c8c800"/>
<circle cx="396.4" cy="184.5" r="1.5" fill="#c8c800"/>
<circle cx="390.3" cy="186.8" r="1.5" fill="#c8c800"/>
<circle cx="388.9" cy="188.9" r="1.5" fill="#c8c800"/>
<circle cx="394.3" cy="187.6" r="1.5" fill="#c8c800"/>
<circle cx="394.1" cy="190.1" r="1.5" fill="#c8c800"/>
<circle cx="395.7" cy="191.5" r="1.5" fill="#c8c800"/>
<circle cx="389.6" cy="197.6" r="1.5" fill="#c8c800"/>
<circle cx="388.2" cy="201.9" r="1.5" fill="#c8c800"/>
<circle cx="381.9" cy="202.7" r="1.5" fill="#c8c800"/>
<circle cx="389.6" cy="203.6" r="1.5" fill="#c8c800"/>
<circle cx="384.2" cy="205.4" r="1.5" fill="#c8c800"/>
<circle cx="395.0" cy="205.0" r="1.5" fill="#c8c800"/>
<circle cx="383.8" cy="208.4" r="1.5" fill="#c8c800"/>
<circle cx="397.7" cy="210.8" r="1.5" fill="#c8c800"/>
<circle cx="411.9" cy="137.7" r="1.5" fill="#c8c800"/>
<circle cx="414.9" cy="140.1" r="1.5" fill="#c8c800"/>
<circle cx="420.9" cy="140.1" r="1.5" fill="#c8c800"/>
<circle cx="422.7" cy="148.8" r="1.5" fill="#c8c800"/>
<circle cx="413.2" cy="151.5" r="1.5" fill="#c8c800"/>
<circle cx="423.2" cy="152.3" r="1.5" fill="#c8c800"/>
<circle cx="415.5" cy="155.0" r="1.5" fill="#c8c800"/>
<circle cx="420.5" cy="158.2" r="1.5" fill="#c8c800"/>
<circle cx="423.6" cy="159.3" r="1.5" fill="#c8c800"/>
<circle cx="421.4" cy="169.5" r="1.5" fill="#c8c800"/>
<circle cx="409.2" cy="172.8" r="1.5" fill="#c8c800"/>
<circle cx="410.8" cy="173.5" r="1.5" fill="#c8c800"/>
<circle cx="410.1" cy="176.8" r="1.5" fill="#c8c800"/>
<circle cx="413.5" cy="176.5" r="1.5" fill="#c8c800"/>
<circle cx="416.0" cy="179.5" r="1.5" fill="#c8c800"/>
<circle cx="420.0" cy="182.8" r="1.5" fill="#c8c800"/>
<circle cx="417.6" cy="186.0" r="1.5" fill="#c8c800"/>
<circle cx="418.9" cy="186.9" r="1.5" fill="#c8c800"/>
<circle cx="422.3" cy="186.9" r="1.5" fill="#c8c800"/>
<circle cx="424.1" cy="185.5" r="1.5" fill="#c8c800"/>
<circle cx="412.8" cy="189.6" r="1.5" fill="#c8c800"/>
<circle cx="409.7" cy="191.9" r="1.5" fill="#c8c800"/>
<circle cx="417.3" cy="198.6" r="1.5" fill="#c8c800"/>
<circle cx="414.6" cy="201.4" r="1.5" fill="#c8c800"/>
<circle cx="416.9" cy="205.4" r="1.5" fill="#c8c800"/>
<circle cx="424.6" cy="205.4" r="1.5" fill="#c8c800"/>
<circle cx="416.2" cy="210.5" r="1.5" fill="#c8c800"/>
<circle cx="418.6" cy="210.1" r="1.5" fill="#c8c800"/>
<circle cx="414.2" cy="212.2" r="1.5" fill="#c8c800"/>
<circle cx="421.4" cy="214.6" r="1.5" fill="#c8c800"/>
<circle cx="425.0" cy="218.6" r="1.5" fill="#c8c800"/>
<circle cx="409.2" cy="220.0" r="1.5" fill="#c8c800"/>
<circle cx="419.6" cy="221.4" r="1.5" fill="#c8c800"/>
<circle cx="420.3" cy="224.1" r="1.5" fill="#c8c800"/>
<circle cx="424.1" cy="224.6" r="1.5" fill="#c8c800"/>
<circle cx="418.9" cy="225.9" r="1.5" fill="#c8c800"/>
<circle cx="418.2" cy="228.6" r="1.5" fill="#c8c800"/>
<circle cx="411.5" cy="234.1" r="1.5" fill="#c8c800"/>
<circle cx="414.2" cy="233.1" r="1.5" fill="#c8c800"/>
<circle cx="417.3" cy="232.7" r="1.5" fill="#c8c800"/>
<circle cx="425.0" cy="234.5" r="1.5" fill="#c8c800"/>
<circle cx="425.7" cy="236.2" r="1.5" fill="#c8c800"/>
<circle cx="415.1" cy="236.8" r="1.5" fill="#c8c800"/>
<circle cx="411.1" cy="240.1" r="1.5" fill="#c8c800"/>
<circle cx="417.6" cy="241.0" r="1.5" fill="#c8c800"/>
<circle cx="422.3" cy="242.6" r="1.5" fill="#c8c800"/>
<circle cx="412.4" cy="251.4" r="1.5" fill="#c8c800"/>
<circle cx="424.3" cy="252.7" r="1.5" fill="#c8c800"/>
<circle cx="472.6" cy="25.1" r="1.5" fill="#ff0000"/>
<circle cx="479.9" cy="23.4" r="1.5" fill="#ff0000"/>
<circle cx="485.7" cy="23.4" r="1.5" fill="#ff0000"/>
<circle cx="482.3" cy="28.8" r="1.5" fill="#ff0000"/>
<circle cx="484.8" cy="30.5" r="1.5" fill="#ff0000"/>
<circle cx="482.6" cy="34.6" r="1.5" fill="#ff0000"/>
<circle cx="470.4" cy="52.2" r="1.5" fill="#ff0000"/>
<circle cx="474.2" cy="50.8" r="1.5" fill="#ff0000"/>
<circle cx="476.2" cy="49.9" r="1.5" fill="#ff0000"/>
<circle cx="473.1" cy="55.7" r="1.5" fill="#ff0000"/>
<circle cx="476.6" cy="55.1" r="1.5" fill="#ff0000"/>
<circle cx="483.4" cy="66.5" r="1.5" fill="#ff0000"/>
<circle cx="471.2" cy="69.6" r="1.5" fill="#ff0000"/>
<circle cx="468.8" cy="76.4" r="1.5" fill="#ff0000"/>
<circle cx="471.8" cy="80.4" r="1.5" fill="#ff0000"/>
<circle cx="473.1" cy="82.4" r="1.5" fill="#ff0000"/>
<circle cx="478.0" cy="81.1" r="1.5" fill="#ff0000"/>
<circle cx="478.3" cy="85.8" r="1.5" fill="#ff0000"/>
<circle cx="484.4" cy="100.1" r="1.5" fill="#ff0000"/>
<circle cx="469.9" cy="104.6" r="1.5" fill="#ff0000"/>
<circle cx="472.2" cy="105.3" r="1.5" fill="#ff0000"/>
<circle cx="477.6" cy="103.6" r="1.5" fill="#ff0000"/>
<circle cx="481.6" cy="110.4" r="1.5" fill="#ff0000"/>
<circle cx="473.5" cy="116.8" r="1.5" fill="#ff0000"/>
<circle cx="474.0" cy="120.4" r="1.5" fill="#ff0000"/>
<circle cx="478.9" cy="120.4" r="1.5" fill="#ff0000"/>
<circle cx="484.0" cy="121.8" r="1.5" fill="#ff0000"/>
<circle cx="485.0" cy="122.8" r="1.5" fill="#ff0000"/>
<circle cx="477.6" cy="123.5" r="1.5" fill="#ff0000"/>
<circle cx="476.9" cy="126.1" r="1.5" fill="#ff0000"/>
<circle cx="475.6" cy="127.8" r="1.5" fill="#ff0000"/>
<circle cx="481.0" cy="130.8" r="1.5" fill="#ff0000"/>
<circle cx="482.1" cy="136.9" r="1.5" fill="#ff0000"/>
<circle cx="478.5" cy="145.0" r="1.5" fill="#ff0000"/>
<circle cx="483.7" cy="149.1" r="1.5" fill="#ff0000"/>
<circle cx="481.2" cy="161.5" r="1.5" fill="#ff0000"/>
<circle cx="475.3" cy="166.1" r="1.5" fill="#ff0000"/>
<circle cx="480.3" cy="167.4" r="1.5" fill="#ff0000"/>
<circle cx="471.5" cy="170.1" r="1.5" fill="#ff0000"/>
<circle cx="474.9" cy="173.2" r="1.5" fill="#ff0000"/>
<circle cx="480.7" cy="177.7" r="1.5" fill="#ff0000"/>
<circle cx="470.4" cy="179.6" r="1.5" fill="#ff0000"/>
<circle cx="474.5" cy="181.8" r="1.5" fill="#ff0000"/>
<circle cx="469.5" cy="184.1" r="1.5" fill="#ff0000"/>
<circle cx="468.5" cy="185.8" r="1.5" fill="#ff0000"/>
<circle cx="476.9" cy="185.8" r="1.5" fill="#ff0000"/>
<circle cx="483.0" cy="187.2" r="1.5" fill="#ff0000"/>
<circle cx="469.1" cy="189.1" r="1.5" fill="#ff0000"/>
<circle cx="479.4" cy="193.9" r="1.5" fill="#ff0000"/>
<circle cx="495.4" cy="113.5" r="1.5" fill="#ff0000"/>
<circle cx="501.5" cy="113.5" r="1.5" fill="#ff0000"/>
<circle cx="506.6" cy="111.8" r="1.5" fill="#ff0000"/>
<circle cx="511.2" cy="117.8" r="1.5" fill="#ff0000"/>
<circle cx="497.5" cy="121.3" r="1.5" fill="#ff0000"/>
<circle cx="502.6" cy="122.2" r="1.5" fill="#ff0000"/>
<circle cx="509.9" cy="121.8" r="1.5" fill="#ff0000"/>
<circle cx="499.1" cy="124.0" r="1.5" fill="#ff0000"/>
<circle cx="501.2" cy="124.9" r="1.5" fill="#ff0000"/>
<circle cx="506.9" cy="125.4" r="1.5" fill="#ff0000"/>
<circle cx="504.2" cy="127.2" r="1.5" fill="#ff0000"/>
<circle cx="505.6" cy="128.6" r="1.5" fill="#ff0000"/>
<circle cx="509.6" cy="128.3" r="1.5" fill="#ff0000"/>
<circle cx="500.4" cy="131.7" r="1.5" fill="#ff0000"/>
<circle cx="505.8" cy="130.4" r="1.5" fill="#ff0000"/>
<circle cx="508.0" cy="131.3" r="1.5" fill="#ff0000"/>
<circle cx="512.0" cy="131.7" r="1.5" fill="#ff0000"/>
<circle cx="503.1" cy="133.5" r="1.5" fill="#ff0000"/>
<circle cx="504.5" cy="135.4" r="1.5" fill="#ff0000"/>
<circle cx="496.4" cy="140.2" r="1.5" fill="#ff0000"/>
<circle cx="498.5" cy="139.4" r="1.5" fill="#ff0000"/>
<circle cx="508.5" cy="140.5" r="1.5" fill="#ff0000"/>
<circle cx="496.1" cy="142.5" r="1.5" fill="#ff0000"/>
<circle cx="504.9" cy="142.5" r="1.5" fill="#ff0000"/>
<circle cx="510.3" cy="142.5" r="1.5" fill="#ff0000"/>
<circle cx="497.5" cy="148.2" r="1.5" fill="#ff0000"/>
<circle cx="500.2" cy="147.4" r="1.5" fill="#ff0000"/>
<circle cx="509.9" cy="146.9" r="1.5" fill="#ff0000"/>
<circle cx="502.9" cy="150.1" r="1.5" fill="#ff0000"/>
<circle cx="501.5" cy="152.6" r="1.5" fill="#ff0000"/>
<circle cx="508.0" cy="153.2" r="1.5" fill="#ff0000"/>
<circle cx="512.1" cy="152.3" r="1.5" fill="#ff0000"/>
<circle cx="506.9" cy="155.0" r="1.5" fill="#ff0000"/>
<circle cx="499.1" cy="156.9" r="1.5" fill="#ff0000"/>
<circle cx="500.8" cy="156.4" r="1.5" fill="#ff0000"/>
<circle cx="502.6" cy="155.3" r="1.5" fill="#ff0000"/>
<circle cx="499.9" cy="158.6" r="1.5" fill="#ff0000"/>
<circle cx="508.3" cy="160.0" r="1.5" fill="#ff0000"/>
<circle cx="503.5" cy="161.8" r="1.5" fill="#ff0000"/>
<circle cx="502.2" cy="165.0" r="1.5" fill="#ff0000"/>
<circle cx="498.8" cy="167.2" r="1.5" fill="#ff0000"/>
<circle cx="526.5" cy="82.8" r="1.5" fill="#ff0000"/>
<circle cx="532.7" cy="84.1" r="1.5" fill="#ff0000"/>
<circle cx="531.9" cy="85.7" r="1.5" fill="#ff0000"/>
<circle cx="531.4" cy="93.6" r="1.5" fill="#ff0000"/>
<circle cx="536.4" cy="97.4" r="1.5" fill="#ff0000"/>
<circle cx="525.9" cy="100.3" r="1.5" fill="#ff0000"/>
<circle cx="528.2" cy="105.1" r="1.5" fill="#ff0000"/>
<circle cx="537.0" cy="105.1" r="1.5" fill="#ff0000"/>
<circle cx="526.2" cy="112.2" r="1.5" fill="#ff0000"/>
<circle cx="522.8" cy="114.5" r="1.5" fill="#ff0000"/>
<circle cx="534.3" cy="115.2" r="1.5" fill="#ff0000"/>
<circle cx="535.7" cy="117.4" r="1.5" fill="#ff0000"/>
<circle cx="537.0" cy="116.8" r="1.5" fill="#ff0000"/>
<circle cx="525.1" cy="119.7" r="1.5" fill="#ff0000"/>
<circle cx="523.5" cy="121.9" r="1.5" fill="#ff0000"/>
<circle cx="532.3" cy="121.9" r="1.5" fill="#ff0000"/>
<circle cx="528.2" cy="124.9" r="1.5" fill="#ff0000"/>
<circle cx="522.2" cy="126.2" r="1.5" fill="#ff0000"/>
<circle cx="538.1" cy="126.0" r="1.5" fill="#ff0000"/>
<circle cx="525.1" cy="134.1" r="1.5" fill="#ff0000"/>
<circle cx="526.9" cy="134.3" r="1.5" fill="#ff0000"/>
<circle cx="530.9" cy="135.0" r="1.5" fill="#ff0000"/>
<circle cx="532.3" cy="135.7" r="1.5" fill="#ff0000"/>
<circle cx="522.4" cy="141.4" r="1.5" fill="#ff0000"/>
<circle cx="530.9" cy="142.7" r="1.5" fill="#ff0000"/>
<circle cx="530.0" cy="144.9" r="1.5" fill="#ff0000"/>
<circle cx="528.6" cy="146.8" r="1.5" fill="#ff0000"/>
<circle cx="521.1" cy="146.8" r="1.5" fill="#ff0000"/>
<circle cx="525.5" cy="148.5" r="1.5" fill="#ff0000"/>
<circle cx="538.4" cy="150.0" r="1.5" fill="#ff0000"/>
<circle cx="536.8" cy="156.1" r="1.5" fill="#ff0000"/>
<circle cx="524.6" cy="158.8" r="1.5" fill="#ff0000"/>
<circle cx="527.3" cy="158.2" r="1.5" fill="#ff0000"/>
<circle cx="534.1" cy="162.3" r="1.5" fill="#ff0000"/>
<circle cx="530.0" cy="163.6" r="1.5" fill="#ff0000"/>
<circle cx="529.6" cy="165.5" r="1.5" fill="#ff0000"/>
<circle cx="535.0" cy="166.9" r="1.5" fill="#ff0000"/>
<circle cx="533.2" cy="168.2" r="1.5" fill="#ff0000"/>
<circle cx="535.4" cy="170.4" r="1.5" fill="#ff0000"/>
<circle cx="529.6" cy="178.5" r="1.5" fill="#ff0000"/>
<circle cx="527.6" cy="184.2" r="1.5" fill="#ff0000"/>
<circle cx="521.9" cy="184.9" r="1.5" fill="#ff0000"/>
<circle cx="528.9" cy="185.9" r="1.5" fill="#ff0000"/>
<circle cx="524.2" cy="188.6" r="1.5" fill="#ff0000"/>
<circle cx="534.6" cy="188.6" r="1.5" fill="#ff0000"/>
<circle cx="523.8" cy="192.7" r="1.5" fill="#ff0000"/>
<circle cx="537.7" cy="195.7" r="1.5" fill="#ff0000"/>
<path d="M63 10.4 H119.1 V15.4" fill="none" stroke="#111" stroke-width="1.2"/>
<line x1="90.4" y1="10.4" x2="90.4" y2="16.4" stroke="#111" stroke-width="1.2"/>
<line x1="63" y1="9.7" x2="63" y2="17.9" stroke="#ff0000" stroke-width="1.2"/>
<polygon points="84.70,4.15 85.43,5.79 87.22,5.98 85.89,7.19 86.26,8.94 84.70,8.05 83.14,8.94 83.51,7.19 82.18,5.98 83.97,5.79" fill="#111"/>
<polygon points="89.40,4.15 90.13,5.79 91.92,5.98 90.59,7.19 90.96,8.94 89.40,8.05 87.84,8.94 88.21,7.19 86.88,5.98 88.67,5.79" fill="#111"/>
<polygon points="94.10,4.15 94.83,5.79 96.62,5.98 95.29,7.19 95.66,8.94 94.10,8.05 92.54,8.94 92.91,7.19 91.58,5.98 93.37,5.79" fill="#111"/>
<path d="M174 10.2 H232.6 V15.2" fill="none" stroke="#111" stroke-width="1.2"/>
<line x1="203.1" y1="10.2" x2="203.1" y2="16.2" stroke="#111" stroke-width="1.2"/>
<line x1="174" y1="9.5" x2="174" y2="17.7" stroke="#ff0000" stroke-width="1.2"/>
<polygon points="200.45,3.95 201.18,5.59 202.97,5.78 201.64,6.99 202.01,8.74 200.45,7.85 198.89,8.74 199.26,6.99 197.93,5.78 199.72,5.59" fill="#111"/>
<polygon points="205.15,3.95 205.88,5.59 207.67,5.78 206.34,6.99 206.71,8.74 205.15,7.85 203.59,8.74 203.96,6.99 202.63,5.78 204.42,5.59" fill="#111"/>
<path d="M360.5 10.7 H416.9 V15.7" fill="none" stroke="#111" stroke-width="1.2"/>
<line x1="389" y1="10.7" x2="389" y2="16.7" stroke="#111" stroke-width="1.2"/>
<line x1="360.5" y1="10.0" x2="360.5" y2="18.2" stroke="#ff0000" stroke-width="1.2"/>
<polygon points="383.50,4.45 384.23,6.09 386.02,6.28 384.69,7.49 385.06,9.24 383.50,8.35 381.94,9.24 382.31,7.49 380.98,6.28 382.77,6.09" fill="#111"/>
<polygon points="388.20,4.45 388.93,6.09 390.72,6.28 389.39,7.49 389.76,9.24 388.20,8.35 386.64,9.24 387.01,7.49 385.68,6.28 387.47,6.09" fill="#111"/>
<polygon points="392.90,4.45 393.63,6.09 395.42,6.28 394.09,7.49 394.46,9.24 392.90,8.35 391.34,9.24 391.71,7.49 390.38,6.28 392.17,6.09" fill="#111"/>
<path d="M477.8 10.5 H530 V15.5" fill="none" stroke="#111" stroke-width="1.2"/>
<line x1="504" y1="10.5" x2="504" y2="16.5" stroke="#111" stroke-width="1.2"/>
<line x1="477.8" y1="9.8" x2="477.8" y2="18.0" stroke="#ff0000" stroke-width="1.2"/>
<polygon points="503.50,4.25 504.23,5.89 506.02,6.08 504.69,7.29 505.06,9.04 503.50,8.15 501.94,9.04 502.31,7.29 500.98,6.08 502.77,5.89" fill="#111"/>
<text x="62.9" y="272.1" text-anchor="middle" font-size="9.5" fill="#2c2c2c">Before</text>
<text x="93.9" y="265.1" text-anchor="middle" font-size="9.5" fill="#2c2c2c">During</text>
<text x="123.0" y="272.1" text-anchor="middle" font-size="9.5" fill="#2c2c2c">After</text>
<text x="174.5" y="272.1" text-anchor="middle" font-size="9.5" fill="#2c2c2c">Before</text>
<text x="205.7" y="265.1" text-anchor="middle" font-size="9.5" fill="#2c2c2c">During</text>
<text x="233.2" y="272.1" text-anchor="middle" font-size="9.5" fill="#2c2c2c">After</text>
<text x="361.0" y="272.1" text-anchor="middle" font-size="9.5" fill="#2c2c2c">Before</text>
<text x="388.6" y="265.1" text-anchor="middle" font-size="9.5" fill="#2c2c2c">During</text>
<text x="416.5" y="272.1" text-anchor="middle" font-size="9.5" fill="#2c2c2c">After</text>
<text x="477.0" y="272.1" text-anchor="middle" font-size="9.5" fill="#2c2c2c">Before</text>
<text x="503.6" y="265.1" text-anchor="middle" font-size="9.5" fill="#2c2c2c">During</text>
<text x="529.6" y="272.1" text-anchor="middle" font-size="9.5" fill="#2c2c2c">After</text>
<text x="91" y="289" text-anchor="middle" font-size="11.9" font-weight="bold" fill="#111">Group-A</text>
<text x="203.1" y="289" text-anchor="middle" font-size="11.9" font-weight="bold" fill="#111">Group-B</text>
<text x="388.6" y="289" text-anchor="middle" font-size="11.9" font-weight="bold" fill="#111">Group-A</text>
<text x="504.3" y="289" text-anchor="middle" font-size="11.9" font-weight="bold" fill="#111">Group-B</text>
</svg></body></html>
